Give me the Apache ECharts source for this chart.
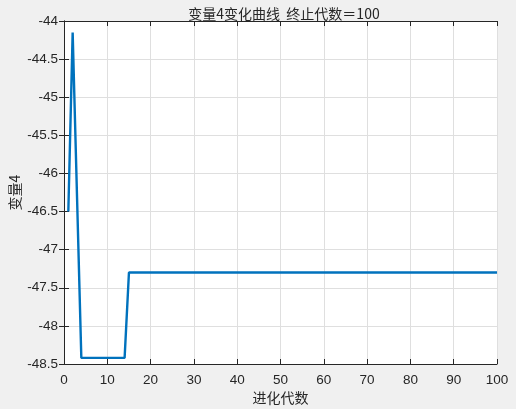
<!DOCTYPE html>
<html>
<head>
<meta charset="utf-8">
<script src="https://cdn.jsdelivr.net/npm/echarts@6/dist/echarts.min.js"></script>
<style>
html,body{margin:0;padding:0;background:#f0f0f0;}
#c{width:516px;height:409px;}
</style>
</head>
<body>
<div id="c"></div>
<script>
const titleText = '变量4变化曲线\u00a0\u00a0终止代数＝100';
const xName = '进化代数';
const yName = '变量4';
const xTicks = [0,10,20,30,40,50,60,70,80,90,100];
const yTicks = [-48.5,-48,-47.5,-47,-46.5,-46,-45.5,-45,-44.5,-44];
const generations = [];
for (let i = 1; i <= 100; i++) generations.push(i);
const values = [
  -46.5, -44.15, -46.29, -48.42, -48.42, -48.42, -48.42, -48.42, -48.42, -48.42,
  -48.42, -48.42, -48.42, -48.42, -47.3, -47.3, -47.3, -47.3, -47.3, -47.3,
  -47.3, -47.3, -47.3, -47.3, -47.3, -47.3, -47.3, -47.3, -47.3, -47.3,
  -47.3, -47.3, -47.3, -47.3, -47.3, -47.3, -47.3, -47.3, -47.3, -47.3,
  -47.3, -47.3, -47.3, -47.3, -47.3, -47.3, -47.3, -47.3, -47.3, -47.3,
  -47.3, -47.3, -47.3, -47.3, -47.3, -47.3, -47.3, -47.3, -47.3, -47.3,
  -47.3, -47.3, -47.3, -47.3, -47.3, -47.3, -47.3, -47.3, -47.3, -47.3,
  -47.3, -47.3, -47.3, -47.3, -47.3, -47.3, -47.3, -47.3, -47.3, -47.3,
  -47.3, -47.3, -47.3, -47.3, -47.3, -47.3, -47.3, -47.3, -47.3, -47.3,
  -47.3, -47.3, -47.3, -47.3, -47.3, -47.3, -47.3, -47.3, -47.3, -47.3
];

const font = '"Liberation Sans", Arial, "Noto Sans CJK SC", sans-serif';
const cjk = '"Noto Sans CJK SC", "Liberation Sans", sans-serif';
const dark = '#262626';
const chart = echarts.init(document.getElementById('c'));
const axisCommon = {
  type: 'value',
  axisLine: {show: true, lineStyle: {color: dark, width: 1}},
  axisTick: {show: true, inside: true, length: 5, lineStyle: {color: dark}},
  splitLine: {show: false}
};
chart.setOption({
  backgroundColor: '#f0f0f0',
  animation: false,
  title: {
    text: titleText, left: 279, top: 2, textAlign: 'center',
    textStyle: {fontFamily: cjk, fontSize: 14, fontWeight: 'normal', color: dark}
  },
  grid: {left: 64, right: 19, top: 21, bottom: 45, show: true, backgroundColor: '#ffffff', borderWidth: 0,
         containLabel: false, outerBoundsMode: 'none'},
  xAxis: [
    Object.assign({}, axisCommon, {
      min: 0, max: 100, interval: 10, position: 'bottom',
      name: xName, nameLocation: 'middle', nameGap: 27, nameMoveOverlap: false,
      nameTextStyle: {fontFamily: cjk, fontSize: 14, color: dark},
      axisLabel: {fontFamily: font, fontSize: 13.5, color: dark, margin: 10},
      splitLine: {show: true, lineStyle: {color: '#dfdfdf', width: 1}}
    }),
    Object.assign({}, axisCommon, {
      min: 0, max: 100, interval: 10, position: 'top',
      axisLabel: {show: false}
    })
  ],
  yAxis: [
    Object.assign({}, axisCommon, {
      min: -48.5, max: -44, interval: 0.5, position: 'left',
      name: yName, nameLocation: 'middle', nameGap: 42, nameMoveOverlap: false,
      nameTextStyle: {fontFamily: cjk, fontSize: 14, color: dark},
      axisLabel: {fontFamily: font, fontSize: 13.5, color: dark, margin: 6},
      splitLine: {show: true, lineStyle: {color: '#dfdfdf', width: 1}}
    }),
    Object.assign({}, axisCommon, {
      min: -48.5, max: -44, interval: 0.5, position: 'right',
      axisLabel: {show: false}
    })
  ],
  series: [{
    type: 'line',
    data: generations.map((g, i) => [g, values[i]]),
    showSymbol: false,
    lineStyle: {color: '#0072BD', width: 2.4},
    xAxisIndex: 0, yAxisIndex: 0
  }]
});
</script>
</body>
</html>
